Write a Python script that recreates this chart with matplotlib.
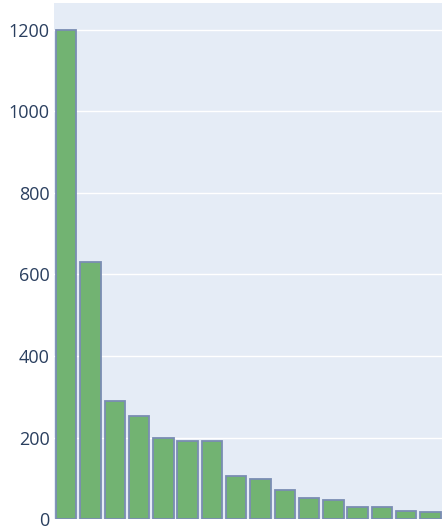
import matplotlib
matplotlib.use("Agg")
import matplotlib.pyplot as plt

categories = list(range(16))
values = [1200, 630, 289, 252, 198, 191, 191, 105, 99, 72, 51, 47, 31, 31, 20, 18]
yticks = [0, 200, 400, 600, 800, 1000, 1200]

fig = plt.figure(figsize=(4.42, 5.26), dpi=100)
ax = fig.add_axes([54/442, (526-519.3)/526, 1 - 54/442, (519.3-3)/526])
ax.set_facecolor('#E5ECF6')
ax.bar(categories, values, width=0.84, color='#72B372', edgecolor='#7A8DB3', linewidth=1.3, zorder=3)
ax.set_xlim(-0.5, 15.47)
ax.set_ylim(0, 1265)
ax.set_yticks(yticks)
ax.set_yticklabels([str(t) for t in yticks], family='Open Sans', fontsize=13, color='#2a3f5f')
ax.set_xticks([])
ax.tick_params(axis='y', length=0, pad=3)
ax.grid(axis='y', color='white', linewidth=1, zorder=0)
for s in ax.spines.values():
    s.set_visible(False)
fig.savefig('out.png', dpi=100, facecolor='white')
